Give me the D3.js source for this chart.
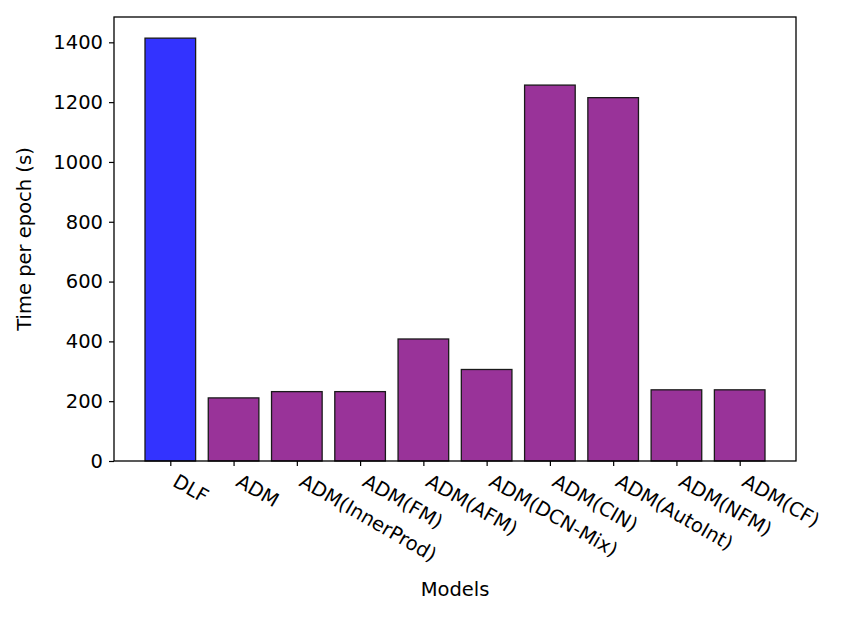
<!DOCTYPE html>
<html>
<head>
  <meta charset="utf-8">
  <style>
    html, body {
      margin: 0;
      padding: 0;
      background: #fff;
      width: 842px;
      height: 620px;
      overflow: hidden;
    }
    svg { display: block; }
    text { font-family: "DejaVu Sans", sans-serif; fill: #000; }
  </style>
</head>
<body>
  <svg width="842" height="620"></svg>

  <script src="https://d3js.org/d3.v7.min.js"></script>
  <script>
    const models = ["DLF", "ADM", "ADM(InnerProd)", "ADM(FM)", "ADM(AFM)", "ADM(DCN-Mix)",
                    "ADM(CIN)", "ADM(AutoInt)", "ADM(NFM)", "ADM(CF)"];
    const times = [1414, 211, 232, 232, 408, 306, 1257, 1215, 238, 238];
    const yTicks = [0, 200, 400, 600, 800, 1000, 1200, 1400];

    const svg = d3.select("svg");
    const margin = {left: 114, right: 46, top: 17, bottom: 159};
    const width = 842 - margin.left - margin.right;
    const height = 620 - margin.top - margin.bottom;
    const fontSize = 19.5;

    // matplotlib-like: bar width 0.8, 5% margins on each side
    const n = models.length;
    const pad = (n - 0.2) * 0.05;
    const x = d3.scaleLinear()
      .domain([-0.4 - pad, n - 1 + 0.4 + pad])
      .range([0, width]);
    const y = d3.scaleLinear()
      .domain([0, d3.max(times) * 1.05])
      .range([height, 0]);

    const g = svg.append("g")
      .attr("transform", `translate(${margin.left},${margin.top})`);

    g.selectAll("rect.bar")
      .data(times)
      .join("rect")
      .attr("class", "bar")
      .attr("x", (d, i) => x(i - 0.4))
      .attr("width", x(0.8) - x(0))
      .attr("y", d => y(d))
      .attr("height", d => y(0) - y(d))
      .attr("fill", (d, i) => i === 0 ? "#3333ff" : "#993399")
      .attr("stroke", "#1a1a1a")
      .attr("stroke-width", 1.3);

    // y axis
    const yAxis = g.append("g")
      .call(d3.axisLeft(y).tickValues(yTicks).tickSize(5).tickPadding(6).tickFormat(d3.format("d")));
    yAxis.select(".domain").remove();
    yAxis.selectAll("line").attr("stroke", "#000").attr("stroke-width", 1.2);
    yAxis.selectAll("text")
      .style("font-size", fontSize + "px")
      .style("font-family", "DejaVu Sans, sans-serif");

    // x axis
    const xAxis = g.append("g")
      .attr("transform", `translate(0,${height})`)
      .call(d3.axisBottom(x).tickValues(d3.range(n)).tickSize(5).tickFormat(""));
    xAxis.select(".domain").remove();
    xAxis.selectAll("line").attr("stroke", "#000").attr("stroke-width", 1.2);

    const rot = 30;
    g.append("g")
      .selectAll("text")
      .data(models)
      .join("text")
      .attr("transform", (d, i) =>
        `translate(${x(i) + fontSize * Math.sin(rot * Math.PI / 180) - 1},${height + 11}) rotate(${rot})`)
      .attr("dy", "0.78em")
      .attr("text-anchor", "start")
      .style("font-size", fontSize + "px")
      .text(d => d);

    // frame
    g.append("rect")
      .attr("width", width)
      .attr("height", height)
      .attr("fill", "none")
      .attr("stroke", "#000")
      .attr("stroke-width", 1.3);

    // axis titles
    svg.append("text")
      .attr("x", margin.left + width / 2)
      .attr("y", 596)
      .attr("text-anchor", "middle")
      .style("font-size", fontSize + "px")
      .text("Models");

    svg.append("text")
      .attr("transform", `translate(31,${margin.top + height / 2}) rotate(-90)`)
      .attr("text-anchor", "middle")
      .style("font-size", fontSize + "px")
      .text("Time per epoch (s)");
  </script>
</body>
</html>
